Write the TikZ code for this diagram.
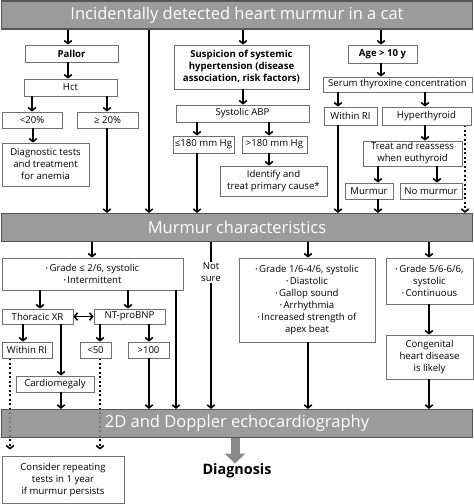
\documentclass[tikz,border=0pt]{standalone}
\usepackage{fontspec}
\setmainfont{Open Sans}
\usetikzlibrary{arrows.meta, positioning, backgrounds, calc}
\definecolor{bargray}{HTML}{8A8A8A}
\definecolor{barline}{HTML}{555555}
\definecolor{boxline}{HTML}{707070}
\newcommand{\bulletdot}{{\fontsize{6}{6}\selectfont\raisebox{0.3ex}{•}}\,}
\tikzset{
    box/.style={rectangle, draw=boxline, fill=white, line width=0.9pt, inner sep=1pt, align=center, font=\fontsize{9.6}{12}\selectfont},
    hbox/.style={box, font=\fontsize{9.6}{12}\selectfont\bfseries},
    bar/.style={rectangle, draw=barline, fill=bargray, fill opacity=0.85, text opacity=1, line width=1.2pt, minimum width=471pt, minimum height=28pt, font=\fontsize{16.5}{18}\selectfont, text=white},
    line/.style={->, line width=1.6pt, black}
}

\begin{document}
\begin{tikzpicture}[
		x=1pt, y=-1pt,
		>={Straight Barb[length=3pt,width=7.5pt]},
		% dotted connectors to the repeat box
		dotline/.style={->, line width=1.6pt, dash pattern=on 2pt off 2.5pt},
		% the grey arrow to the diagnosis
		bigarrow/.style={-{Triangle[length=10pt,width=20pt]}, line width=9pt, draw=bargray}
		]
		\useasboundingbox (0,0) rectangle (474,504);
		
		% Bars
		\node (title) [bar] at (237,15) {Incidentally detected heart murmur in a cat};
		\node (characteristics) [bar] at (237,227.5) {Murmur characteristics};
		\node (echo) [bar] at (237,423.5) {2D and Doppler echocardiography};
		
		% Pallor branch
		\node (pallor) [hbox, minimum width=93pt, minimum height=17pt] at (71.5,53.5) {Pallor};
		\node (hct) [box, minimum width=93pt, minimum height=17pt] at (70.5,87.5) {Hct};
		\node (lowhct) [box, minimum width=60pt, minimum height=16pt] at (32,120) {<20\%};
		\node (highhct) [box, minimum width=61pt, minimum height=16pt] at (107.5,120) {≥ 20\%};
		\node (anemia) [box, minimum width=87pt, minimum height=43pt] at (45.5,164.5) {Diagnostic tests\\and treatment\\for anemia};
		
		% Hypertension branch
		\node (suspicion) [hbox, minimum width=135pt, minimum height=44pt] at (241.5,67) {Suspicion of systemic\\hypertension (disease\\association, risk factors)};
		\node (abp) [box, minimum width=133pt, minimum height=17pt] at (242.5,113.5) {Systolic ABP};
		\node (lowabp) [box, minimum width=61pt, minimum height=17pt] at (203.5,144.5) {≤180 mm Hg};
		\node (highabp) [box, minimum width=65pt, minimum height=17pt] at (274.5,144.5) {>180 mm Hg};
		\node (primary) [box, minimum width=107pt, minimum height=30pt] at (273.5,181) {Identify and\\treat primary cause*};
		
		% Thyroid branch
		\node (age) [hbox, minimum width=69pt, minimum height=18pt] at (382.5,54) {Age > 10 y};
		\node (thyroxine) [box, minimum width=149pt, minimum height=15pt] at (397.5,84.5) {Serum thyroxine concentration};
		\node (normalt4) [box, minimum width=53pt, minimum height=18pt] at (350.5,116) {Within RI};
		\node (hyperthyroid) [box, minimum width=89pt, minimum height=18pt] at (426.5,116) {Hyperthyroid};
		\node (treat) [box, minimum width=99pt, minimum height=25pt] at (412.5,153.5) {Treat and reassess\\when euthyroid};
		\node (murmur) [box, minimum width=48pt, minimum height=16pt] at (369,191) {Murmur};
		\node (nomurmur) [box, minimum width=62pt, minimum height=16pt] at (431,191) {No murmur};
		
		% Murmur characteristics
		\node (soft) [box, minimum width=181pt, minimum height=32pt] at (92.5,274) {\bulletdot Grade ≤ 2/6, systolic\\\bulletdot Intermittent};
		\node (notsure) [align=center, inner sep=1pt, font=\fontsize{9.6}{12}\selectfont] at (211,272.5) {Not\\sure};
		\node (loud) [box, minimum width=136pt, minimum height=84pt] at (307,300) {\bulletdot Grade 1/6-4/6, systolic\\\bulletdot Diastolic\\\bulletdot Gallop sound\\\bulletdot Arrhythmia\\\bulletdot Increased strength of\\apex beat};
		\node (severe) [box, minimum width=87pt, minimum height=46pt] at (429.5,281) {\bulletdot Grade 5/6-6/6,\\systolic\\\bulletdot Continuous};
		\node (congenital) [box, minimum width=87pt, minimum height=44pt] at (429.5,357) {Congenital\\heart disease\\is likely};
		
		% Work-up of soft murmurs
		\node (thoracic) [box, minimum width=71pt, minimum height=15pt] at (37.5,316.5) {Thoracic XR};
		\node (ntpro) [box, minimum width=71pt, minimum height=15pt] at (129.5,316.5) {NT-proBNP};
		\node (normalxr) [box, minimum width=50pt, minimum height=16pt] at (27,350) {Within RI};
		\node (low50) [box, minimum width=31pt, minimum height=16pt] at (95.5,350) {<50};
		\node (high100) [box, minimum width=41pt, minimum height=16pt] at (148.5,350) {>100};
		\node (cardio) [box, minimum width=78pt, minimum height=16pt] at (55,384) {Cardiomegaly};
		
		% Outcome
		\node (repeat) [box, minimum width=122pt, minimum height=47pt] at (63,479.5) {Consider repeating\\tests in 1 year\\if murmur persists};
		\node (diagnosis) [inner sep=0pt, font=\fontsize{14.4}{16}\selectfont\bfseries] at (237,471) {Diagnosis};
		
		% Arrows from the top bar
		\draw [line] (title.south -| 68,0) -- (pallor.north -| 68,0);
		\draw [line] (title.south -| 149,0) -- (characteristics.north -| 149,0);
		\draw [line] (title.south -| 243,0) -- (suspicion.north -| 243,0);
		\draw [line] (title.south -| 381,0) -- (age.north -| 381,0);
		
		\draw [line] (pallor.south -| 68,0) -- (hct.north -| 68,0);
		\draw [line] (hct.south -| 32,0) -- (lowhct.north -| 32,0);
		\draw [line] (hct.south -| 107,0) -- (highhct.north -| 107,0);
		\draw [line] (lowhct.south -| 33,0) -- (anemia.north -| 33,0);
		\draw [line] (highhct.south -| 107,0) -- (characteristics.north -| 107,0);
		
		\draw [line] (suspicion.south -| 243,0) -- (abp.north -| 243,0);
		\draw [line] (abp.south -| 197,0) -- (lowabp.north -| 197,0);
		\draw [line] (abp.south -| 269,0) -- (highabp.north -| 269,0);
		\draw [line] (highabp.south -| 269,0) -- (primary.north -| 269,0);
		\draw [line] (lowabp.south -| 197,0) -- (characteristics.north -| 197,0);
		
		\draw [line] (age.south -| 381,0) -- (thyroxine.north -| 381,0);
		\draw [line] (thyroxine.south -| 338,0) -- (normalt4.north -| 338,0);
		\draw [line] (thyroxine.south -| 425,0) -- (hyperthyroid.north -| 425,0);
		\draw [line] (normalt4.south -| 338,0) -- (characteristics.north -| 338,0);
		\draw [line] (hyperthyroid.south -| 425,0) -- (treat.north -| 425,0);
		\draw [line] (treat.south -| 378,0) -- (murmur.north -| 378,0);
		\draw [line] (treat.south -| 437,0) -- (nomurmur.north -| 437,0);
		\draw [line] (murmur.south -| 378,0) -- (characteristics.north -| 378,0);
		
		% Arrows from murmur characteristics
		\draw [line] (characteristics.south -| 92,0) -- (soft.north -| 92,0);
		\draw [line width=1.6pt] (characteristics.south -| 211,0) -- (notsure.north);
		\draw [line] (notsure.south) -- (echo.north -| 211,0);
		\draw [line] (characteristics.south -| 308,0) -- (loud.north -| 308,0);
		\draw [line] (characteristics.south -| 429,0) -- (severe.north -| 429,0);
		\draw [line] (severe.south -| 429,0) -- (congenital.north -| 429,0);
		\draw [line] (congenital.south -| 429,0) -- (echo.north -| 429,0);
		\draw [line] (loud.south -| 308,0) -- (echo.north -| 308,0);
		
		\draw [line] (soft.south -| 40,0) -- (thoracic.north -| 40,0);
		\draw [line] (soft.south -| 128,0) -- (ntpro.north -| 128,0);
		\draw [line] (soft.south -| 176,0) -- (echo.north -| 176,0);
		\draw [<->, line width=1.6pt] (thoracic.east) -- (ntpro.west);
		\draw [line] (thoracic.south -| 23,0) -- (normalxr.north -| 23,0);
		\draw [line] (thoracic.south -| 61,0) -- (cardio.north -| 61,0);
		\draw [line] (ntpro.south -| 100,0) -- (low50.north -| 100,0);
		\draw [line] (ntpro.south -| 149,0) -- (high100.north -| 149,0);
		\draw [line] (cardio.south -| 61,0) -- (echo.north -| 61,0);
		\draw [line] (high100.south -| 149,0) -- (echo.north -| 149,0);
		
		% Dotted connectors, kept behind the bars
		\begin{pgfonlayer}{background}
			\draw [dotline] (hyperthyroid.south -| 465,0) -- (characteristics.north -| 465,0);
			\draw [dotline] (normalxr.south -| 10,0) -- ($(repeat.north -| 10,0)+(0,-6)$);
			\draw [dotline] (low50.south -| 100,0) -- ($(repeat.north -| 100,0)+(0,-6)$);
		\end{pgfonlayer}
		
		\draw [bigarrow] (echo.south -| 235,0) -- (diagnosis.north -| 235,0);
		
	\end{tikzpicture}
\end{document}
